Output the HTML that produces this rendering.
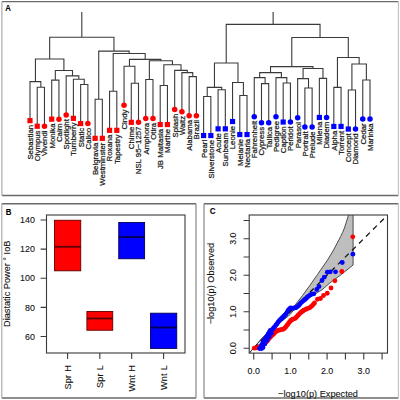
<!DOCTYPE html>
<html><head><meta charset="utf-8"><title>Figure</title>
<style>
html,body{margin:0;padding:0;background:#fff;}
svg text{stroke:#111;stroke-width:0.1px;}
svg .lab text{stroke-width:0.22px;}
body{width:400px;height:400px;overflow:hidden;position:relative;font-family:"Liberation Sans", sans-serif;}
</style></head><body>
<svg width="400" height="400" viewBox="0 0 400 400" style="position:absolute;left:0;top:0">
<rect x="0" y="0" width="400" height="400" fill="#fff"/>
<path d="M1.9 1.6H398.4M1.9 195.5H398.4" stroke="#6a6a6a" stroke-width="1.4" fill="none"/>
<path d="M1.9 1.6V195.5" stroke="#a4a4a4" stroke-width="1.1" fill="none"/>
<path d="M398.4 1.6V195.5" stroke="#c2c2c2" stroke-width="1.1" fill="none"/>
<path d="M1.8 203.8H196.0M1.8 398.0H196.0" stroke="#6a6a6a" stroke-width="1.4" fill="none"/>
<path d="M1.8 203.8V398.0" stroke="#a4a4a4" stroke-width="1.1" fill="none"/>
<path d="M196.0 203.8V398.0" stroke="#7c7c7c" stroke-width="1.1" fill="none"/>
<path d="M204.0 203.8H398.4M204.0 398.0H398.4" stroke="#6a6a6a" stroke-width="1.4" fill="none"/>
<path d="M204.0 203.8V398.0" stroke="#7c7c7c" stroke-width="1.1" fill="none"/>
<path d="M398.4 203.8V398.0" stroke="#c2c2c2" stroke-width="1.1" fill="none"/>
<g font-family='"Liberation Sans", sans-serif' font-weight="bold" font-size="8.8" fill="#000">
<text transform="translate(5.2,10.5) scale(0.88,1.1)">A</text>
<text transform="translate(5.8,214.5) scale(0.9,1)">B</text>
<text transform="translate(209.8,214.1) scale(0.92,1)">C</text>
</g>
<path d="M30.00 81.60L30.00 120.65M37.23 87.20L37.23 126.25M44.47 87.20L44.47 126.25M37.23 87.20L44.47 87.20M40.85 81.60L40.85 87.20M30.00 81.60L40.85 81.60M35.43 59.00L35.43 81.60M51.70 80.10L51.70 119.15M58.94 80.10L58.94 119.15M51.70 80.10L58.94 80.10M55.32 70.50L55.32 80.10M66.17 75.90L66.17 114.95M73.40 79.30L73.40 118.35M80.64 84.50L80.64 123.55M87.87 84.50L87.87 123.55M80.64 84.50L87.87 84.50M84.25 79.30L84.25 84.50M73.40 79.30L84.25 79.30M78.83 75.90L78.83 79.30M66.17 75.90L78.83 75.90M72.50 70.50L72.50 75.90M55.32 70.50L72.50 70.50M63.91 59.00L63.91 70.50M35.43 59.00L63.91 59.00M49.67 37.20L49.67 59.00M95.11 99.30L95.11 138.35M102.34 99.30L102.34 138.35M95.11 99.30L102.34 99.30M98.72 51.10L98.72 99.30M109.57 91.30L109.57 130.35M116.81 91.30L116.81 130.35M109.57 91.30L116.81 91.30M113.19 53.50L113.19 91.30M124.04 66.30L124.04 105.35M131.28 83.30L131.28 122.35M138.51 83.30L138.51 122.35M131.28 83.30L138.51 83.30M134.89 66.30L134.89 83.30M124.04 66.30L134.89 66.30M129.47 59.40L129.47 66.30M145.74 79.50L145.74 118.55M152.98 79.50L152.98 118.55M145.74 79.50L152.98 79.50M149.36 60.70L149.36 79.50M160.21 85.50L160.21 124.55M167.45 85.50L167.45 124.55M160.21 85.50L167.45 85.50M163.83 64.80L163.83 85.50M174.68 70.40L174.68 109.45M181.91 72.60L181.91 111.65M189.15 76.60L189.15 115.65M196.38 76.60L196.38 115.65M189.15 76.60L196.38 76.60M192.76 72.60L192.76 76.60M181.91 72.60L192.76 72.60M187.34 70.40L187.34 72.60M174.68 70.40L187.34 70.40M181.01 64.80L181.01 70.40M163.83 64.80L181.01 64.80M172.42 60.70L172.42 64.80M149.36 60.70L172.42 60.70M160.89 59.40L160.89 60.70M129.47 59.40L160.89 59.40M145.18 53.50L145.18 59.40M113.19 53.50L145.18 53.50M129.18 51.10L129.18 53.50M98.72 51.10L129.18 51.10M113.95 37.20L113.95 51.10M49.67 37.20L113.95 37.20M81.81 12.60L81.81 37.20M203.62 96.50L203.62 135.55M210.85 96.50L210.85 135.55M203.62 96.50L210.85 96.50M207.23 87.40L207.23 96.50M218.08 89.80L218.08 128.85M225.32 89.80L225.32 128.85M218.08 89.80L225.32 89.80M221.70 87.40L221.70 89.80M207.23 87.40L221.70 87.40M214.47 63.00L214.47 87.40M232.55 82.50L232.55 121.55M239.79 95.50L239.79 134.55M247.02 95.50L247.02 134.55M239.79 95.50L247.02 95.50M243.40 82.50L243.40 95.50M232.55 82.50L243.40 82.50M237.98 63.00L237.98 82.50M214.47 63.00L237.98 63.00M226.22 24.40L226.22 63.00M254.25 77.60L254.25 116.65M261.49 83.60L261.49 122.65M268.72 83.60L268.72 122.65M261.49 83.60L268.72 83.60M265.11 77.60L265.11 83.60M254.25 77.60L265.11 77.60M259.68 72.60L259.68 77.60M275.96 77.60L275.96 116.65M283.19 83.00L283.19 122.05M290.42 83.00L290.42 122.05M283.19 83.00L290.42 83.00M286.81 77.60L286.81 83.00M275.96 77.60L286.81 77.60M281.38 72.60L281.38 77.60M259.68 72.60L281.38 72.60M270.53 66.60L270.53 72.60M297.66 78.60L297.66 117.65M304.89 88.00L304.89 127.05M312.13 88.00L312.13 127.05M304.89 88.00L312.13 88.00M308.51 78.60L308.51 88.00M297.66 78.60L308.51 78.60M303.08 68.50L303.08 78.60M319.36 78.40L319.36 117.45M326.59 78.40L326.59 117.45M319.36 78.40L326.59 78.40M322.98 68.50L322.98 78.40M303.08 68.50L322.98 68.50M313.03 66.60L313.03 68.50M270.53 66.60L313.03 66.60M291.78 37.50L291.78 66.60M333.83 87.40L333.83 126.45M341.06 87.40L341.06 126.45M333.83 87.40L341.06 87.40M337.44 57.50L337.44 87.40M348.30 90.00L348.30 129.05M355.53 90.00L355.53 129.05M348.30 90.00L355.53 90.00M351.91 64.00L351.91 90.00M362.76 80.00L362.76 119.05M370.00 80.00L370.00 119.05M362.76 80.00L370.00 80.00M366.38 64.00L366.38 80.00M351.91 64.00L366.38 64.00M359.15 57.50L359.15 64.00M337.44 57.50L359.15 57.50M348.30 37.50L348.30 57.50M291.78 37.50L348.30 37.50M320.04 24.40L320.04 37.50M226.22 24.40L320.04 24.40M273.13 12.60L273.13 24.40" stroke="#3a3a3a" stroke-width="1.1" fill="none" stroke-linecap="square"/>
<rect x="27.40" y="118.05" width="5.2" height="5.2" fill="#ff0000"/>
<rect x="34.63" y="123.65" width="5.2" height="5.2" fill="#ff0000"/>
<circle cx="44.47" cy="126.25" r="2.75" fill="#ff0000"/>
<rect x="49.10" y="116.55" width="5.2" height="5.2" fill="#ff0000"/>
<circle cx="58.94" cy="119.15" r="2.75" fill="#ff0000"/>
<circle cx="66.17" cy="114.95" r="2.75" fill="#ff0000"/>
<rect x="70.80" y="115.75" width="5.2" height="5.2" fill="#ff0000"/>
<rect x="78.04" y="120.95" width="5.2" height="5.2" fill="#ff0000"/>
<circle cx="87.87" cy="123.55" r="2.75" fill="#ff0000"/>
<rect x="92.51" y="135.75" width="5.2" height="5.2" fill="#ff0000"/>
<rect x="99.74" y="135.75" width="5.2" height="5.2" fill="#ff0000"/>
<rect x="106.97" y="127.75" width="5.2" height="5.2" fill="#ff0000"/>
<rect x="114.21" y="127.75" width="5.2" height="5.2" fill="#ff0000"/>
<circle cx="124.04" cy="105.35" r="2.75" fill="#ff0000"/>
<rect x="128.68" y="119.75" width="5.2" height="5.2" fill="#ff0000"/>
<circle cx="138.51" cy="122.35" r="2.75" fill="#ff0000"/>
<circle cx="145.74" cy="118.55" r="2.75" fill="#ff0000"/>
<circle cx="152.98" cy="118.55" r="2.75" fill="#ff0000"/>
<rect x="157.61" y="121.95" width="5.2" height="5.2" fill="#ff0000"/>
<rect x="164.85" y="121.95" width="5.2" height="5.2" fill="#ff0000"/>
<circle cx="174.68" cy="109.45" r="2.75" fill="#ff0000"/>
<circle cx="181.91" cy="111.65" r="2.75" fill="#ff0000"/>
<circle cx="189.15" cy="115.65" r="2.75" fill="#ff0000"/>
<circle cx="196.38" cy="115.65" r="2.75" fill="#ff0000"/>
<rect x="201.02" y="132.95" width="5.2" height="5.2" fill="#0000ff"/>
<rect x="208.25" y="132.95" width="5.2" height="5.2" fill="#0000ff"/>
<rect x="215.48" y="126.25" width="5.2" height="5.2" fill="#0000ff"/>
<rect x="222.72" y="126.25" width="5.2" height="5.2" fill="#0000ff"/>
<rect x="229.95" y="118.95" width="5.2" height="5.2" fill="#0000ff"/>
<rect x="237.19" y="131.95" width="5.2" height="5.2" fill="#0000ff"/>
<rect x="244.42" y="131.95" width="5.2" height="5.2" fill="#0000ff"/>
<circle cx="254.25" cy="116.65" r="2.75" fill="#0000ff"/>
<circle cx="261.49" cy="122.65" r="2.75" fill="#0000ff"/>
<circle cx="268.72" cy="122.65" r="2.75" fill="#0000ff"/>
<circle cx="275.96" cy="116.65" r="2.75" fill="#0000ff"/>
<rect x="280.59" y="119.45" width="5.2" height="5.2" fill="#0000ff"/>
<circle cx="290.42" cy="122.05" r="2.75" fill="#0000ff"/>
<circle cx="297.66" cy="117.65" r="2.75" fill="#0000ff"/>
<circle cx="304.89" cy="127.05" r="2.75" fill="#0000ff"/>
<circle cx="312.13" cy="127.05" r="2.75" fill="#0000ff"/>
<rect x="316.76" y="114.85" width="5.2" height="5.2" fill="#0000ff"/>
<circle cx="326.59" cy="117.45" r="2.75" fill="#0000ff"/>
<rect x="331.23" y="123.85" width="5.2" height="5.2" fill="#0000ff"/>
<rect x="338.46" y="123.85" width="5.2" height="5.2" fill="#0000ff"/>
<rect x="345.70" y="126.45" width="5.2" height="5.2" fill="#0000ff"/>
<circle cx="355.53" cy="129.05" r="2.75" fill="#0000ff"/>
<circle cx="362.76" cy="119.05" r="2.75" fill="#0000ff"/>
<circle cx="370.00" cy="119.05" r="2.75" fill="#0000ff"/>
<g class="lab" font-family='"Liberation Sans", sans-serif' font-size="7.8" fill="#222" text-anchor="end">
<text transform="translate(32.90,124.90) rotate(-90)">Sebastian</text>
<text transform="translate(40.13,130.50) rotate(-90)">Olympus</text>
<text transform="translate(47.37,130.50) rotate(-90)">Vivendi</text>
<text transform="translate(54.60,123.40) rotate(-90)">Monika</text>
<text transform="translate(61.84,123.40) rotate(-90)">Cairn</text>
<text transform="translate(69.07,119.20) rotate(-90)">Spotlight</text>
<text transform="translate(76.30,122.60) rotate(-90)">Turnberry</text>
<text transform="translate(83.54,127.80) rotate(-90)">Static</text>
<text transform="translate(90.77,127.80) rotate(-90)">Calico</text>
<text transform="translate(98.01,142.60) rotate(-90)">Belgravia</text>
<text transform="translate(105.24,142.60) rotate(-90)">Westminster</text>
<text transform="translate(112.47,134.60) rotate(-90)">Roxana</text>
<text transform="translate(119.71,134.60) rotate(-90)">Tapestry</text>
<text transform="translate(126.94,109.60) rotate(-90)">Cindy</text>
<text transform="translate(134.18,126.60) rotate(-90)">Chime</text>
<text transform="translate(141.41,126.60) rotate(-90)">NSL 95−1257</text>
<text transform="translate(148.64,122.80) rotate(-90)">Amphora</text>
<text transform="translate(155.88,122.80) rotate(-90)">Otira</text>
<text transform="translate(163.11,128.80) rotate(-90)">JB Maltasia</text>
<text transform="translate(170.35,128.80) rotate(-90)">Marthe</text>
<text transform="translate(177.58,113.70) rotate(-90)">Splash</text>
<text transform="translate(184.81,115.90) rotate(-90)">Waltz</text>
<text transform="translate(192.05,119.90) rotate(-90)">Alabama</text>
<text transform="translate(199.28,119.90) rotate(-90)">Brazil</text>
<text transform="translate(206.52,139.80) rotate(-90)">Pearl</text>
<text transform="translate(213.75,139.80) rotate(-90)">Silverstone</text>
<text transform="translate(220.98,133.10) rotate(-90)">Acute</text>
<text transform="translate(228.22,133.10) rotate(-90)">Sunbeam</text>
<text transform="translate(235.45,125.80) rotate(-90)">Leonie</text>
<text transform="translate(242.69,138.80) rotate(-90)">Melanie</text>
<text transform="translate(249.92,138.80) rotate(-90)">Nectaria</text>
<text transform="translate(257.15,120.90) rotate(-90)">Fahrenheit</text>
<text transform="translate(264.39,126.90) rotate(-90)">Cypress</text>
<text transform="translate(271.62,126.90) rotate(-90)">Tallica</text>
<text transform="translate(278.86,120.90) rotate(-90)">Pedigree</text>
<text transform="translate(286.09,126.30) rotate(-90)">Caption</text>
<text transform="translate(293.32,126.30) rotate(-90)">Peridot</text>
<text transform="translate(300.56,121.90) rotate(-90)">Parasol</text>
<text transform="translate(307.79,131.30) rotate(-90)">Portrait</text>
<text transform="translate(315.03,131.30) rotate(-90)">Prelude</text>
<text transform="translate(322.26,121.70) rotate(-90)">Milena</text>
<text transform="translate(329.49,121.70) rotate(-90)">Diadem</text>
<text transform="translate(336.73,130.70) rotate(-90)">Alpha</text>
<text transform="translate(343.96,130.70) rotate(-90)">Torrent</text>
<text transform="translate(351.20,133.30) rotate(-90)">Concept</text>
<text transform="translate(358.43,133.30) rotate(-90)">Diamond</text>
<text transform="translate(365.66,123.30) rotate(-90)">Cedar</text>
<text transform="translate(372.90,123.30) rotate(-90)">Marinka</text>
</g>
<rect x="46.5" y="215.0" width="138.5" height="138.0" fill="none" stroke="#3a3a3a" stroke-width="1.1"/>
<path d="M40.6 336.50H46.5M40.6 307.38H46.5M40.6 278.25H46.5M40.6 249.12H46.5M40.6 220.00H46.5" stroke="#3a3a3a" stroke-width="1.1"/>
<g font-family='"Liberation Sans", sans-serif' font-size="8.9" fill="#111" text-anchor="end">
<text x="34.9" y="339.70">60</text>
<text x="34.9" y="310.57">80</text>
<text x="34.9" y="281.45">100</text>
<text x="34.9" y="252.32">120</text>
<text x="34.9" y="223.20">140</text>
</g>
<rect x="54.5" y="220.25" width="26.25" height="50.55" fill="#ff0000" stroke="#600000" stroke-width="0.9"/>
<path d="M54.5 246.8H80.75" stroke="#600000" stroke-width="1.8"/>
<rect x="86.9" y="311.5" width="25.85" height="18.75" fill="#ff0000" stroke="#600000" stroke-width="0.9"/>
<path d="M86.9 318.5H112.75" stroke="#600000" stroke-width="1.8"/>
<rect x="118.75" y="222.5" width="25.85" height="36.25" fill="#0000ff" stroke="#000050" stroke-width="0.9"/>
<path d="M118.75 237.1H144.6" stroke="#000050" stroke-width="1.8"/>
<rect x="150.5" y="313.2" width="26.25" height="35.20" fill="#0000ff" stroke="#000050" stroke-width="0.9"/>
<path d="M150.5 327.5H176.75" stroke="#000050" stroke-width="1.8"/>
<path d="M67.6 353.0V359M99.8 353.0V359M131.7 353.0V359M163.6 353.0V359" stroke="#3a3a3a" stroke-width="1.1"/>
<g font-family='"Liberation Sans", sans-serif' font-size="9.1" fill="#111" text-anchor="end" letter-spacing="0.25">
<text transform="translate(70.70,365) rotate(-90)">Spr H</text>
<text transform="translate(102.90,365) rotate(-90)">Spr L</text>
<text transform="translate(134.80,365) rotate(-90)">Wnt H</text>
<text transform="translate(166.70,365) rotate(-90)">Wnt L</text>
</g>
<text transform="translate(10.3,283.8) rotate(-90)" font-family='"Liberation Sans", sans-serif' font-size="9.2" fill="#111" text-anchor="middle">Diastatic Power ° IoB</text>
<clipPath id="cp"><rect x="249.2" y="215.0" width="138.3" height="138.10000000000002"/></clipPath>
<g clip-path="url(#cp)">
<polygon points="249.3,353.1 255.0,346.3 262.0,338.9 267.8,332.2 275.0,324.7 280.0,319.5 288.0,310.8 295.0,305.2 302.5,295.5 310.0,285.2 317.5,274.5 327.5,260.0 333.0,251.0 338.8,240.0 340.6,236.5 342.6,232.5 344.4,228.0 346.2,222.5 347.6,218.0 348.8,214.0 353.1,214.0 353.1,265.0 340.0,275.5 330.0,282.8 322.0,289.8 314.0,294.5 305.0,300.5 297.6,306.0 288.5,316.0 280.0,322.5 270.0,331.5 262.0,338.0 255.0,346.3 249.3,353.1" fill="#bebebe" stroke="#3c3c3c" stroke-width="0.9"/>
<path d="M253.75 348.20L383.93 218.62" stroke="#111" stroke-width="1.3" stroke-dasharray="5.4 4.5"/>
</g>
<circle cx="254.30" cy="348.20" r="2.4" fill="#ff0000"/>
<circle cx="255.90" cy="347.95" r="2.4" fill="#ff0000"/>
<circle cx="257.50" cy="347.70" r="2.4" fill="#ff0000"/>
<circle cx="258.75" cy="347.10" r="2.4" fill="#ff0000"/>
<circle cx="260.00" cy="346.50" r="2.4" fill="#ff0000"/>
<circle cx="261.25" cy="345.75" r="2.4" fill="#ff0000"/>
<circle cx="262.50" cy="345.00" r="2.4" fill="#ff0000"/>
<circle cx="263.75" cy="344.12" r="2.4" fill="#ff0000"/>
<circle cx="265.00" cy="343.25" r="2.4" fill="#ff0000"/>
<circle cx="266.12" cy="342.12" r="2.4" fill="#ff0000"/>
<circle cx="267.25" cy="341.00" r="2.4" fill="#ff0000"/>
<circle cx="268.38" cy="339.50" r="2.4" fill="#ff0000"/>
<circle cx="269.50" cy="338.00" r="2.4" fill="#ff0000"/>
<circle cx="271.00" cy="336.50" r="2.4" fill="#ff0000"/>
<circle cx="272.50" cy="335.00" r="2.4" fill="#ff0000"/>
<circle cx="273.62" cy="333.88" r="2.4" fill="#ff0000"/>
<circle cx="274.75" cy="332.75" r="2.4" fill="#ff0000"/>
<circle cx="276.25" cy="331.62" r="2.4" fill="#ff0000"/>
<circle cx="277.75" cy="330.50" r="2.4" fill="#ff0000"/>
<circle cx="279.25" cy="330.12" r="2.4" fill="#ff0000"/>
<circle cx="280.75" cy="329.75" r="2.4" fill="#ff0000"/>
<circle cx="282.25" cy="329.38" r="2.4" fill="#ff0000"/>
<circle cx="283.75" cy="329.00" r="2.4" fill="#ff0000"/>
<circle cx="284.88" cy="327.88" r="2.4" fill="#ff0000"/>
<circle cx="286.00" cy="326.75" r="2.4" fill="#ff0000"/>
<circle cx="287.12" cy="325.25" r="2.4" fill="#ff0000"/>
<circle cx="288.25" cy="323.75" r="2.4" fill="#ff0000"/>
<circle cx="289.38" cy="322.25" r="2.4" fill="#ff0000"/>
<circle cx="290.50" cy="320.75" r="2.4" fill="#ff0000"/>
<circle cx="291.62" cy="320.00" r="2.4" fill="#ff0000"/>
<circle cx="292.75" cy="319.25" r="2.4" fill="#ff0000"/>
<circle cx="295.00" cy="318.50" r="2.4" fill="#ff0000"/>
<circle cx="296.12" cy="317.38" r="2.4" fill="#ff0000"/>
<circle cx="297.25" cy="316.25" r="2.4" fill="#ff0000"/>
<circle cx="298.38" cy="315.02" r="2.4" fill="#ff0000"/>
<circle cx="299.50" cy="313.80" r="2.4" fill="#ff0000"/>
<circle cx="300.62" cy="312.77" r="2.4" fill="#ff0000"/>
<circle cx="301.75" cy="311.75" r="2.4" fill="#ff0000"/>
<circle cx="302.88" cy="311.00" r="2.4" fill="#ff0000"/>
<circle cx="304.00" cy="310.25" r="2.4" fill="#ff0000"/>
<circle cx="305.50" cy="309.50" r="2.4" fill="#ff0000"/>
<circle cx="307.00" cy="308.75" r="2.4" fill="#ff0000"/>
<circle cx="308.50" cy="308.18" r="2.4" fill="#ff0000"/>
<circle cx="310.00" cy="307.60" r="2.4" fill="#ff0000"/>
<circle cx="311.12" cy="306.60" r="2.4" fill="#ff0000"/>
<circle cx="312.25" cy="305.60" r="2.4" fill="#ff0000"/>
<circle cx="313.38" cy="304.30" r="2.4" fill="#ff0000"/>
<circle cx="314.50" cy="303.00" r="2.4" fill="#ff0000"/>
<circle cx="317.50" cy="299.25" r="2.4" fill="#ff0000"/>
<circle cx="320.50" cy="298.50" r="2.4" fill="#ff0000"/>
<circle cx="323.50" cy="295.50" r="2.4" fill="#ff0000"/>
<circle cx="327.25" cy="293.25" r="2.4" fill="#ff0000"/>
<circle cx="331.00" cy="288.00" r="2.4" fill="#ff0000"/>
<circle cx="334.90" cy="280.80" r="2.4" fill="#ff0000"/>
<circle cx="341.80" cy="271.50" r="2.4" fill="#ff0000"/>
<circle cx="352.80" cy="236.80" r="2.4" fill="#ff0000"/>
<circle cx="259.50" cy="348.50" r="2.4" fill="#0000ff"/>
<circle cx="261.60" cy="348.60" r="2.4" fill="#0000ff"/>
<circle cx="261.55" cy="346.95" r="2.4" fill="#0000ff"/>
<circle cx="261.50" cy="345.30" r="2.4" fill="#0000ff"/>
<circle cx="262.50" cy="343.52" r="2.4" fill="#0000ff"/>
<circle cx="263.50" cy="341.75" r="2.4" fill="#0000ff"/>
<circle cx="264.62" cy="339.88" r="2.4" fill="#0000ff"/>
<circle cx="265.75" cy="338.00" r="2.4" fill="#0000ff"/>
<circle cx="266.88" cy="336.12" r="2.4" fill="#0000ff"/>
<circle cx="268.00" cy="334.25" r="2.4" fill="#0000ff"/>
<circle cx="269.12" cy="332.38" r="2.4" fill="#0000ff"/>
<circle cx="270.25" cy="330.50" r="2.4" fill="#0000ff"/>
<circle cx="272.50" cy="329.30" r="2.4" fill="#0000ff"/>
<circle cx="273.62" cy="328.02" r="2.4" fill="#0000ff"/>
<circle cx="274.75" cy="326.75" r="2.4" fill="#0000ff"/>
<circle cx="275.88" cy="325.25" r="2.4" fill="#0000ff"/>
<circle cx="277.00" cy="323.75" r="2.4" fill="#0000ff"/>
<circle cx="278.12" cy="322.25" r="2.4" fill="#0000ff"/>
<circle cx="279.25" cy="320.75" r="2.4" fill="#0000ff"/>
<circle cx="280.38" cy="319.62" r="2.4" fill="#0000ff"/>
<circle cx="281.50" cy="318.50" r="2.4" fill="#0000ff"/>
<circle cx="282.62" cy="317.38" r="2.4" fill="#0000ff"/>
<circle cx="283.75" cy="316.25" r="2.4" fill="#0000ff"/>
<circle cx="284.88" cy="315.12" r="2.4" fill="#0000ff"/>
<circle cx="286.00" cy="314.00" r="2.4" fill="#0000ff"/>
<circle cx="287.12" cy="312.12" r="2.4" fill="#0000ff"/>
<circle cx="288.25" cy="310.25" r="2.4" fill="#0000ff"/>
<circle cx="289.38" cy="309.12" r="2.4" fill="#0000ff"/>
<circle cx="290.50" cy="308.00" r="2.4" fill="#0000ff"/>
<circle cx="292.00" cy="308.10" r="2.4" fill="#0000ff"/>
<circle cx="293.50" cy="308.20" r="2.4" fill="#0000ff"/>
<circle cx="294.85" cy="307.90" r="2.4" fill="#0000ff"/>
<circle cx="296.20" cy="307.60" r="2.4" fill="#0000ff"/>
<circle cx="297.48" cy="306.55" r="2.4" fill="#0000ff"/>
<circle cx="298.75" cy="305.50" r="2.4" fill="#0000ff"/>
<circle cx="299.98" cy="304.05" r="2.4" fill="#0000ff"/>
<circle cx="301.20" cy="302.60" r="2.4" fill="#0000ff"/>
<circle cx="302.40" cy="301.60" r="2.4" fill="#0000ff"/>
<circle cx="303.60" cy="300.60" r="2.4" fill="#0000ff"/>
<circle cx="304.70" cy="299.70" r="2.4" fill="#0000ff"/>
<circle cx="305.80" cy="298.80" r="2.4" fill="#0000ff"/>
<circle cx="307.00" cy="297.60" r="2.4" fill="#0000ff"/>
<circle cx="308.20" cy="296.40" r="2.4" fill="#0000ff"/>
<circle cx="310.20" cy="295.00" r="2.4" fill="#0000ff"/>
<circle cx="312.00" cy="294.20" r="2.4" fill="#0000ff"/>
<circle cx="313.90" cy="293.80" r="2.4" fill="#0000ff"/>
<circle cx="316.75" cy="289.50" r="2.4" fill="#0000ff"/>
<circle cx="319.00" cy="286.50" r="2.4" fill="#0000ff"/>
<circle cx="322.00" cy="280.50" r="2.4" fill="#0000ff"/>
<circle cx="324.25" cy="277.20" r="2.4" fill="#0000ff"/>
<circle cx="327.25" cy="272.25" r="2.4" fill="#0000ff"/>
<circle cx="330.25" cy="271.80" r="2.4" fill="#0000ff"/>
<circle cx="335.50" cy="271.80" r="2.4" fill="#0000ff"/>
<circle cx="342.25" cy="262.50" r="2.4" fill="#0000ff"/>
<circle cx="352.90" cy="254.20" r="2.4" fill="#0000ff"/>
<circle cx="263.00" cy="347.60" r="2.4" fill="#0000ff"/>
<circle cx="264.90" cy="343.90" r="2.4" fill="#0000ff"/>
<circle cx="267.00" cy="340.30" r="2.4" fill="#0000ff"/>
<circle cx="269.20" cy="336.80" r="2.4" fill="#0000ff"/>
<circle cx="271.40" cy="333.20" r="2.4" fill="#0000ff"/>
<rect x="249.2" y="215.0" width="138.30" height="138.10" fill="none" stroke="#3a3a3a" stroke-width="1.1"/>
<path d="M243.6 348.20H249.2M243.6 329.95H249.2M243.6 311.70H249.2M243.6 293.45H249.2M243.6 275.20H249.2M243.6 256.95H249.2M243.6 238.70H249.2M243.6 220.45H249.2M253.75 353.1V359.4M272.08 353.1V359.4M290.42 353.1V359.4M308.75 353.1V359.4M327.09 353.1V359.4M345.43 353.1V359.4M363.76 353.1V359.4M382.10 353.1V359.4" stroke="#3a3a3a" stroke-width="1.1"/>
<g font-family='"Liberation Sans", sans-serif' font-size="8.9" fill="#111" text-anchor="middle">
<text transform="translate(236.4,348.20) rotate(-90)">0.0</text>
<text x="253.75" y="374.2">0.0</text>
<text transform="translate(236.4,311.70) rotate(-90)">1.0</text>
<text x="290.42" y="374.2">1.0</text>
<text transform="translate(236.4,275.20) rotate(-90)">2.0</text>
<text x="327.09" y="374.2">2.0</text>
<text transform="translate(236.4,238.70) rotate(-90)">3.0</text>
<text x="363.76" y="374.2">3.0</text>
</g>
<text transform="translate(213.9,283.6) rotate(-90)" font-family='"Liberation Sans", sans-serif' font-size="9.2" fill="#111" text-anchor="middle">−log10(p) Observed</text>
<text x="318.0" y="396.9" font-family='"Liberation Sans", sans-serif' font-size="9.2" fill="#111" text-anchor="middle">−log10(p) Expected</text>
</svg>
</body></html>
